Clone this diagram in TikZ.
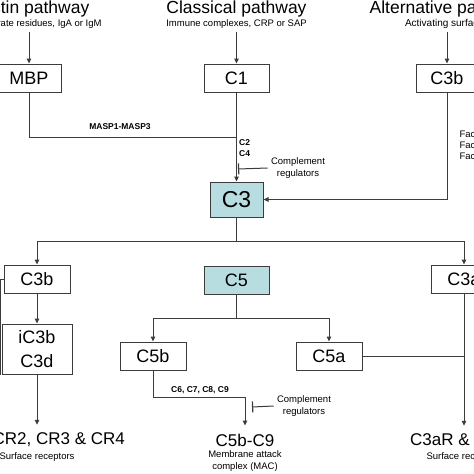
\documentclass[tikz,border=0pt]{standalone}
\usepackage{fontspec}
\setmainfont{Liberation Sans}
\usepackage{xcolor}
\usepackage{tikz}
\usetikzlibrary{arrows,arrows.meta,positioning,calc}
\definecolor{lineGray}{HTML}{3C3C3C}
\definecolor{boxTeal}{HTML}{B7DDE0}

\begin{document}
\begin{tikzpicture}[x=1pt,y=-1pt,
    box/.style={draw=lineGray, line width=1pt, fill=white, minimum width=65pt, minimum height=28pt, inner sep=0pt, font=\fontsize{18}{20}\selectfont},
    keybox/.style={box, fill=boxTeal},
    title/.style={font=\fontsize{17.5}{20}\selectfont},
    sub/.style={font=\fontsize{9.5}{12}\selectfont, align=center},
    tag/.style={font=\bfseries\fontsize{8.5}{10.5}\selectfont, align=left, inner sep=1pt},
    endtxt/.style={font=\fontsize{17}{19}\selectfont, inner sep=8pt},
    ln/.style={draw=lineGray, line width=1pt},
    arr/.style={ln, -{Triangle[length=5pt,width=4.5pt]}},
    inh/.style={ln, -{Bar[width=11pt,line width=1.2pt]}}]
    \useasboundingbox (0,0) rectangle (474,474);
    \clip (0,0) rectangle (474,474);

    % Pathways
    \node[title] (lectin) at (31,9) {Lectin pathway};
    \node[sub] (lectsub) at (29,24) {Carbohydrate residues, IgA or IgM};
    \node[title] (classic) at (236.5,9) {Classical pathway};
    \node[sub] (classub) at (236.5,24) {Immune complexes, CRP or SAP};
    \node[title] (altern) at (446,9) {Alternative pathway};
    \node[sub, font=\fontsize{10}{12}\selectfont] (altsub) at (447,24) {Activating surfaces};

    % Initiators
    \node[box] (mbp) at (29,78) {MBP};
    \node[box] (c1) at (236.5,78) {C1};
    \node[box, minimum width=62pt] (c3btop) at (447,78) {C3b};
    \draw[arr] (mbp |- lectsub.south) -- (mbp);
    \draw[arr] (c1 |- classub.south) -- (c1);
    \draw[arr] (c3btop |- altsub.south) -- (c3btop);

    % Convergence on C3
    \node[keybox, minimum width=53pt, minimum height=35pt, font=\fontsize{23}{25}\selectfont] (c3) at (236.5,199.5) {C3};
    \coordinate (masp) at (236.5,137);
    \draw[ln] (mbp) |- (masp);
    \node[tag] (masplbl) at (120,127) {MASP1-MASP3};
    \draw[arr] (c1) -- (c3);
    \node[tag, anchor=west] (c2c4) at (238,148) {C2\\C4};
    \draw[arr] (c3btop) |- (c3);
    \node[sub, anchor=north west, align=left, font=\fontsize{9.5}{11}\selectfont] (factors) at (456,127) {Factor B\\Factor D\\Factor P};

    % Regulators on C3
    \coordinate (stop1) at (238,169);
    \node[sub] (regs1) at (298,168) {Complement\\regulators};
    \draw[inh] (regs1.west) -- (stop1);

    % Split of C3
    \coordinate (split3) at (236.5,241);
    \node[box, minimum width=66pt] (c3bl) at (37,279) {C3b};
    \node[keybox] (c5) at (236.5,280) {C5};
    \node[box, minimum width=66pt] (c3a) at (464,279) {C3a};
    \draw[ln] (c3) -- (split3);
    \draw[arr] (split3) -| (c3bl);
    \draw[arr] (split3) -| (c3a);

    % C3b branch
    \node[box, minimum width=70pt, minimum height=50pt, align=center, font=\fontsize{18}{24}\selectfont] (ic3b) at (37,349) {iC3b\\C3d};
    \coordinate (edge3b) at (0.5,279);
    \draw[ln] (c3bl) -- (edge3b) -- (edge3b |- ic3b.south);
    \draw[arr] (c3bl) -- (ic3b);
    \node[endtxt] (cr) at (37,440) {CR1, CR2, CR3 \& CR4};
    \node[sub] (crsub) at (37,457) {Surface receptors};
    \draw[arr] (ic3b) -- (cr);

    % C5 branch
    \coordinate (split5) at (236.5,318);
    \node[box, minimum width=66pt] (c5b) at (153,356) {C5b};
    \node[box, minimum width=66pt] (c5a) at (329,356) {C5a};
    \draw[ln] (c5) -- (split5);
    \draw[arr] (split5) -| (c5b);
    \draw[arr] (split5) -| (c5a);

    % Membrane attack complex
    \coordinate (bend) at (245,397);
    \node[endtxt] (mac) at (245,440) {C5b-C9};
    \node[sub] (macsub) at (245,461) {Membrane attack\\complex (MAC)};
    \draw[arr] (c5b) |- (bend) -- (mac);
    \node[tag] (c6c9) at (200,390) {C6, C7, C8, C9};
    \coordinate (stop2) at (252,407);
    \node[sub] (regs2) at (304,406) {Complement\\regulators};
    \draw[inh] (regs2.west) -- (stop2);

    % Anaphylatoxin receptors
    \node[endtxt] (c3ar) at (464,440) {C3aR \& C5aR};
    \node[sub] (c3arsub) at (464,457) {Surface receptors};
    \draw[arr] (c3a) -- (c3ar);
    \draw[ln] (c5a) -- (c5a -| c3a);
\end{tikzpicture}
\end{document}
